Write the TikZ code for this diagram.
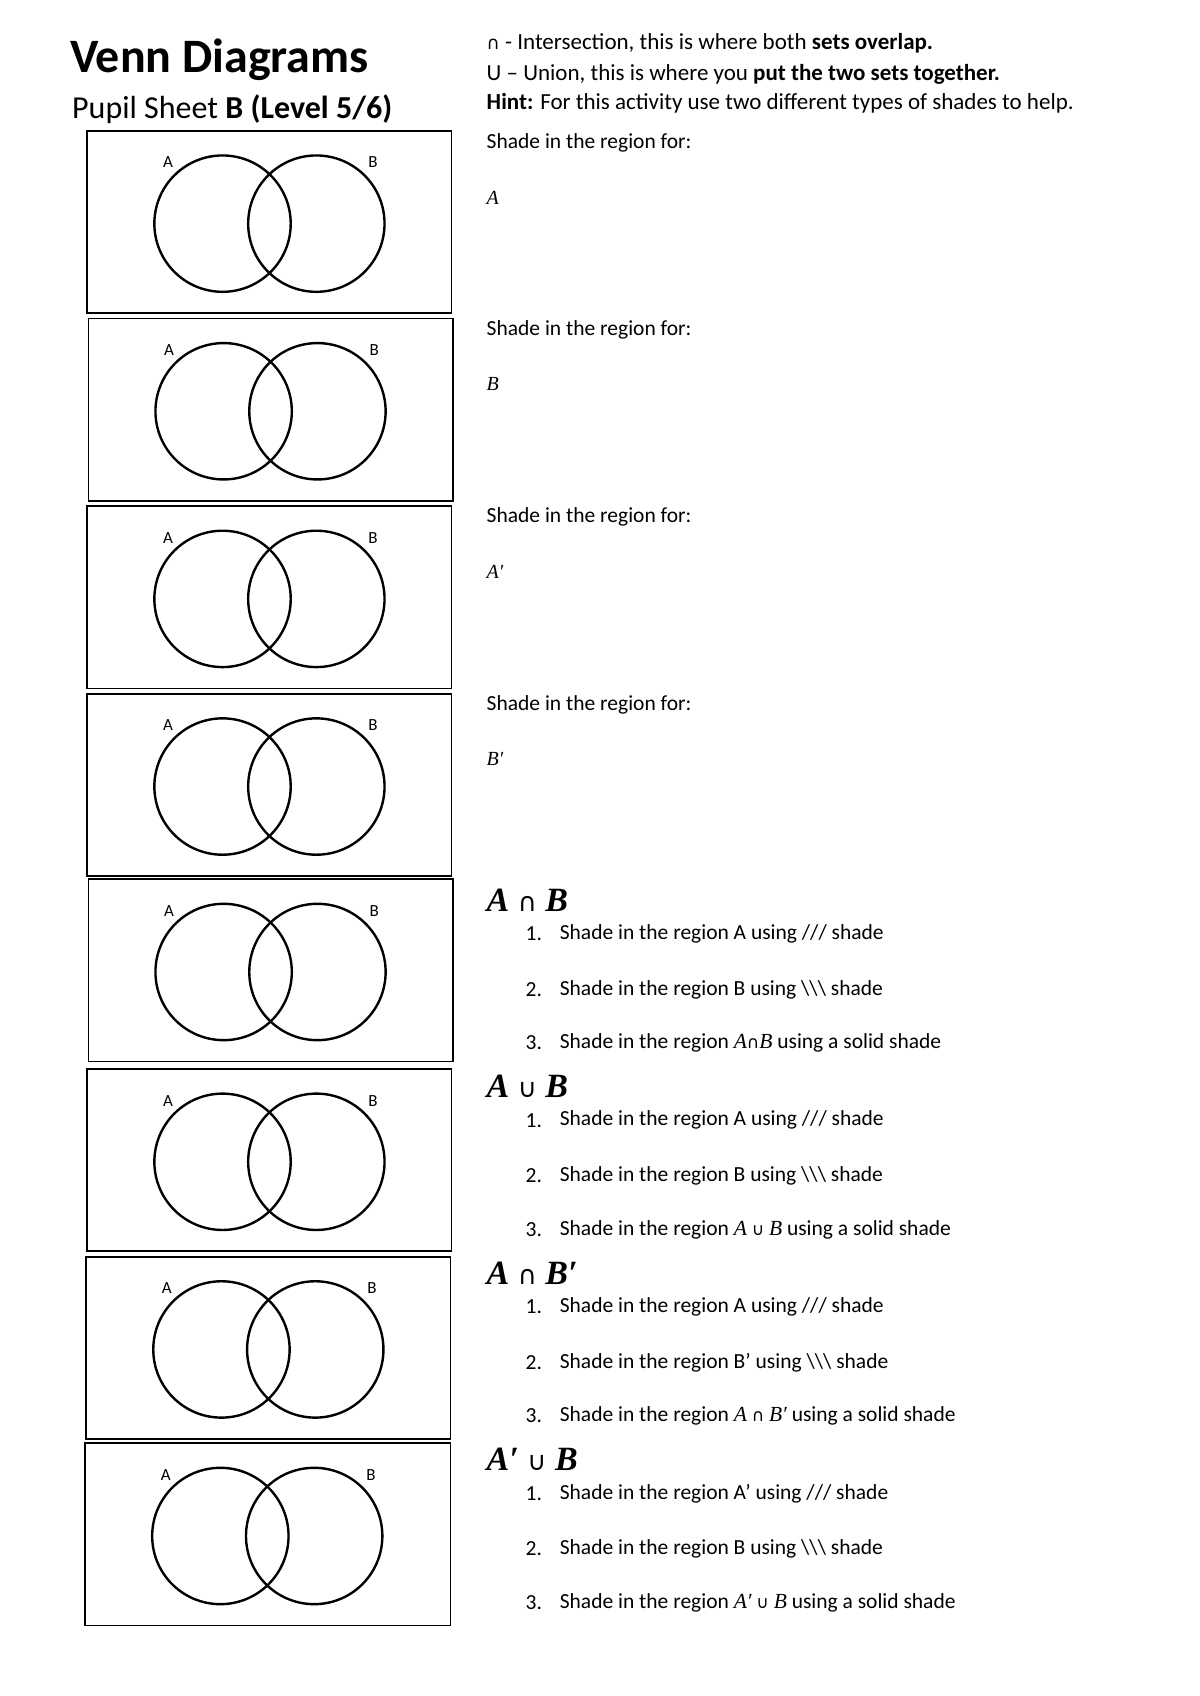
\documentclass[tikz,border=0pt]{standalone}
\usepackage{fontspec}
\setmainfont{Carlito}
\newfontfamily\mathf{Liberation Serif}
\newfontfamily\symf{DejaVu Sans}
\begin{document}
\begin{tikzpicture}[x=1.0909pt,y=-1.0909pt,
  vbox/.style={draw,line width=1.6pt},
  vcirc/.style={draw,line width=2.4pt},
  lbl/.style={font=\fontsize{17}{19}\selectfont,inner sep=0pt},
  txt/.style={anchor=west,inner sep=0pt,font=\fontsize{21.5}{24}\selectfont},
  hd/.style={anchor=west,inner sep=0pt,font=\fontsize{23}{26}\selectfont},
  mh/.style={anchor=west,inner sep=0pt,font=\fontsize{34}{38}\selectfont\mathf\bfseries\itshape}]
\useasboundingbox (0,0) rectangle (1100,1554.7);
\foreach \t/\l/\r [count=\i] in {120/80/414,292/81/415,464/80/414,636/80/414,806/81/415,980/80/414,1152/79/413,1323/78/413}{
  \draw[vbox] (\l,\t) rectangle (\r,\t+167);
  \draw[vcirc] (\l+124,\t+85) circle (62.5);
  \draw[vcirc] (\l+210,\t+85) circle (62.5);
  \node[lbl] (a\i) at (\l+74,\t+29) {A};
  \node[lbl] (b\i) at (\l+262,\t+29) {B};
}
\node[anchor=west,inner sep=0pt,font=\fontsize{48}{52}\selectfont\bfseries] (title) at (64,55) {Venn Diagrams};
\node[anchor=west,inner sep=0pt,font=\fontsize{32}{36}\selectfont] (sub) at (66,100) {Pupil Sheet \textbf{B (Level 5/6)}};
\node[hd] (h1) at (446,40) {{\symf\fontsize{18}{20}\selectfont ∩} - Intersection, this is where both \textbf{sets overlap.}};
\node[hd] (h2) at (446,68) {U – Union, this is where you \textbf{put the two sets together.}};
\node[hd] (h3) at (446,95) {\textbf{Hint:} For this activity use two different types of shades to help.};
\foreach \y/\m [count=\i] in {131/A,302/B,474/A′,646/B′}{
  \node[txt] (s\i) at (446,\y) {Shade in the region for:};
  \node[txt,font=\fontsize{20}{22}\selectfont\mathf\itshape] (m\i) at (446,\y+50) {\m};
}
\foreach \y/\hh/\pa/\pb/\pc [count=\i] in {
 825/{A {\symf\mdseries\upshape\fontsize{26}{28}\selectfont ∩} B}/{A using /// shade}/{B using \textbackslash\textbackslash\textbackslash\ shade}/{{\mathf\itshape A}{\symf\fontsize{17}{19}\selectfont ∩}{\mathf\itshape B} using a solid shade},
 996/{A {\symf\mdseries\upshape\fontsize{26}{28}\selectfont ∪} B}/{A using /// shade}/{B using \textbackslash\textbackslash\textbackslash\ shade}/{{\mathf\itshape A} {\symf\fontsize{17}{19}\selectfont ∪} {\mathf\itshape B} using a solid shade},
 1167/{A {\symf\mdseries\upshape\fontsize{26}{28}\selectfont ∩} B′}/{A using /// shade}/{B’ using \textbackslash\textbackslash\textbackslash\ shade}/{{\mathf\itshape A} {\symf\fontsize{17}{19}\selectfont ∩} {\mathf\itshape B′} using a solid shade},
 1338/{A′ {\symf\mdseries\upshape\fontsize{26}{28}\selectfont ∪} B}/{A’ using /// shade}/{B using \textbackslash\textbackslash\textbackslash\ shade}/{{\mathf\itshape A′} {\symf\fontsize{17}{19}\selectfont ∪} {\mathf\itshape B} using a solid shade}}{
  \node[mh] (q\i) at (446,\y) {\hh};
  \node[txt,anchor=east] (n\i a) at (497,\y+31) {1.};
  \node[txt] (t\i a) at (513,\y+31) {Shade in the region \pa};
  \node[txt,anchor=east] (n\i b) at (497,\y+82) {2.};
  \node[txt] (t\i b) at (513,\y+82) {Shade in the region \pb};
  \node[txt,anchor=east] (n\i c) at (497,\y+131) {3.};
  \node[txt] (t\i c) at (513,\y+131) {Shade in the region \pc};
}
\end{tikzpicture}
\end{document}
